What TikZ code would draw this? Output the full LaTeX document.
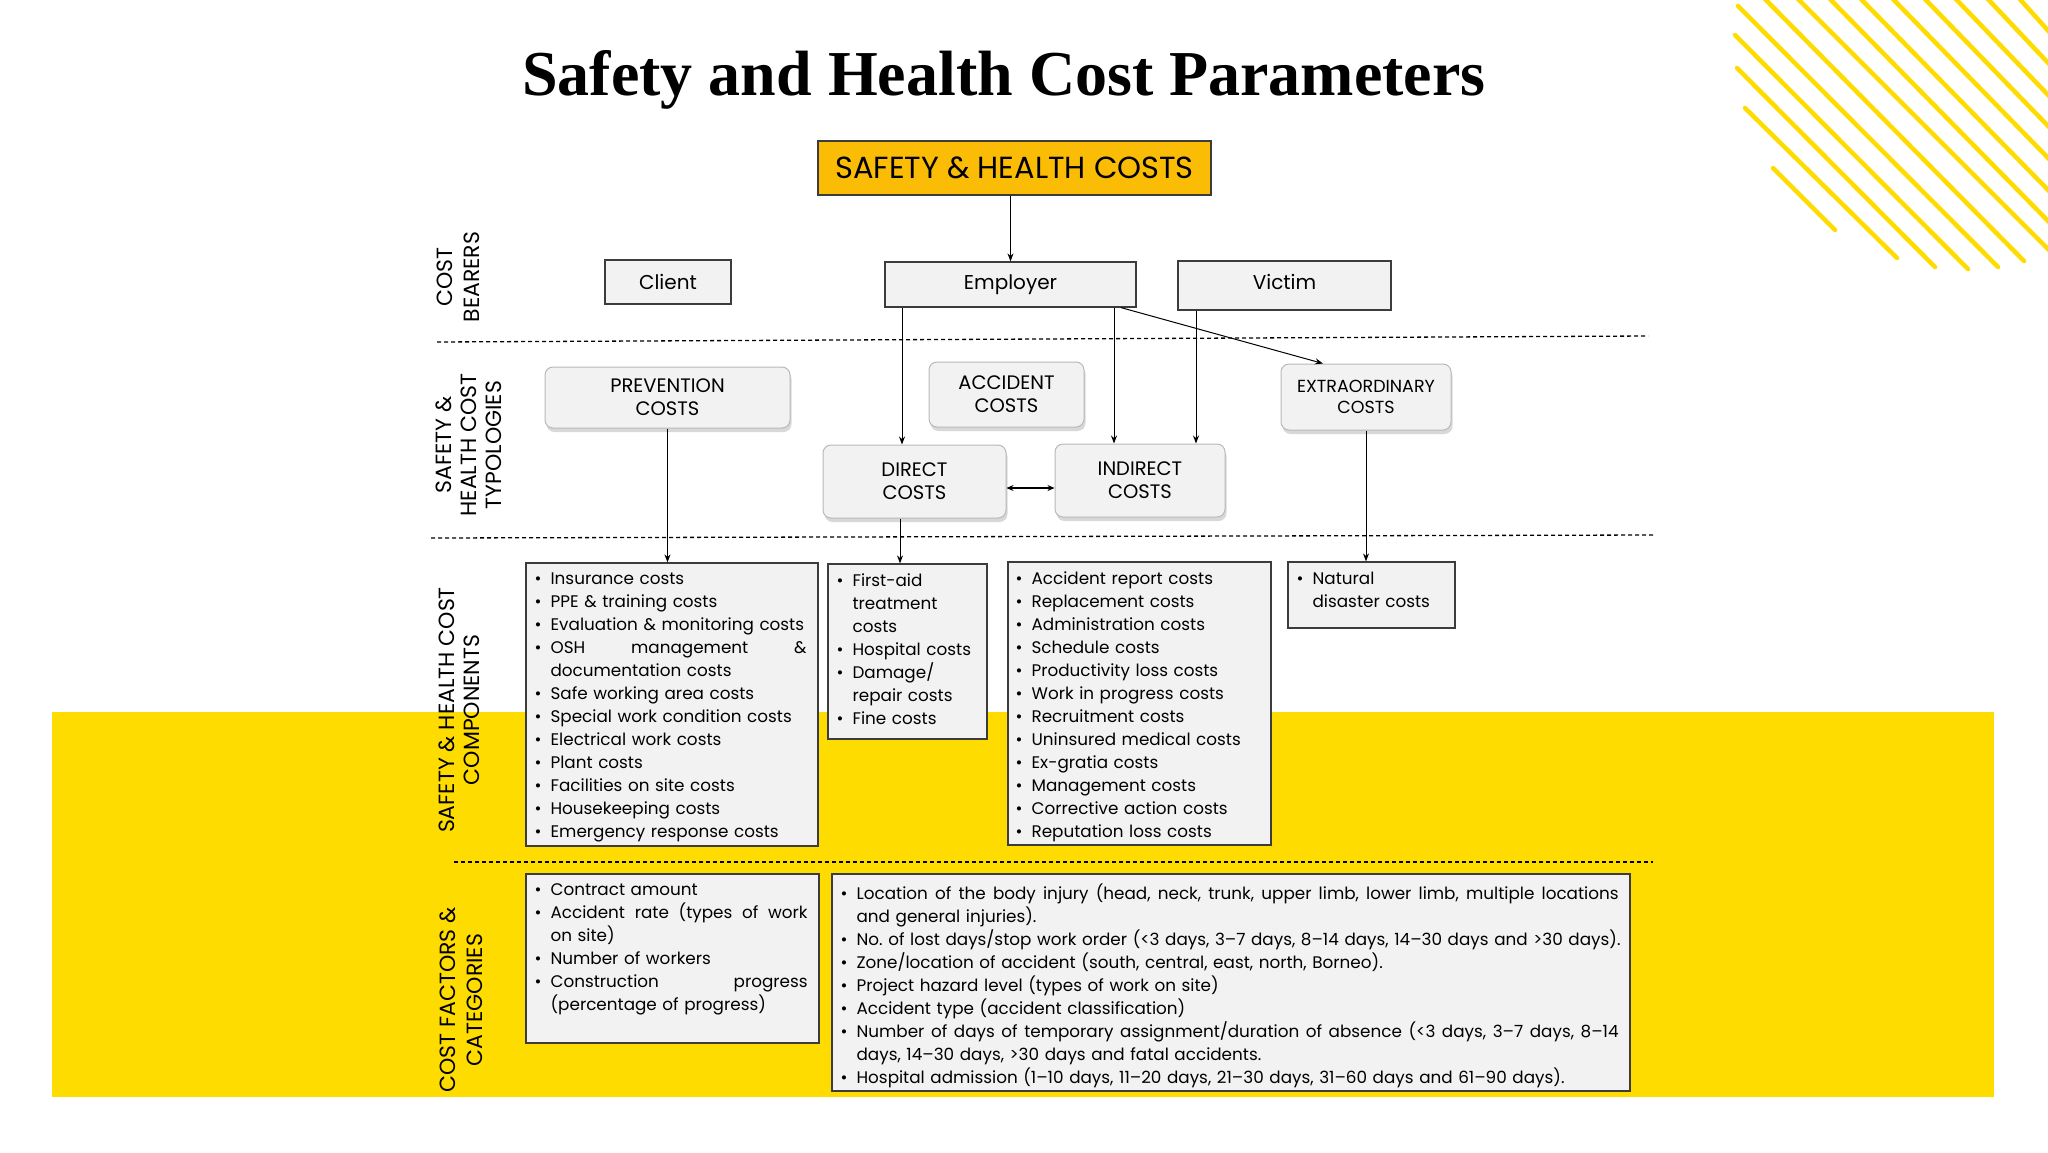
\documentclass[tikz,border=0pt]{standalone}
\usepackage{fontspec}
\setmainfont{Poppins}
\newfontfamily\titlefont{Liberation Serif}
\usetikzlibrary{arrows.meta,shadows,fit}

\definecolor{gold}{RGB}{251,188,5}
\definecolor{sunyellow}{RGB}{255,220,0}
\definecolor{boxgray}{RGB}{242,242,242}
\definecolor{edgegray}{RGB}{60,60,60}

\newcommand{\bul}{\makebox[16pt][l]{\textbullet}}
\newcommand{\ind}{\hspace*{16pt}}
\newcommand{\fullline}[2]{\makebox[#1][s]{\spaceskip=0pt\xspaceskip=0pt #2}}

\begin{document}
\frenchspacing
\begin{tikzpicture}[x=1pt, y=-1pt,
    bearer/.style={draw=edgegray, fill=boxgray, line width=1.2pt, font=\fontsize{20}{24}\selectfont},
    typology/.style={draw=gray!55, fill=boxgray, line width=1pt, rounded corners=8pt, align=center,
        drop shadow={shadow xshift=1.5pt, shadow yshift=-4pt, opacity=0.3},
        font=\fontsize{19.5}{23}\selectfont},
    listbox/.style={draw=edgegray, fill=boxgray, line width=1.2pt, inner sep=0pt},
    listtext/.style={anchor=north west, inner sep=0pt, align=left, font=\fontsize{16.8}{23}\selectfont},
    sidelabel/.style={rotate=90, align=center, font=\fontsize{22}{27}\selectfont},
    divider/.style={dash pattern=on 4pt off 3pt, line width=1.3pt},
    arr/.style={-{Stealth[length=8pt,width=6pt]}, line width=1pt}
]
    \useasboundingbox (0,0) rectangle (2048,1152);
    \fill[white] (0,0) rectangle (2048,1152);

    % Yellow band and corner stripes
    \fill[sunyellow] (52,712) rectangle (1994,1097);
    \draw[sunyellow, line width=4.5pt, line cap=round]
        (1773,168) -- (1835,230) (1745,108) -- (1897,258)
        (1737,68) -- (1935,267) (1735,35) -- (1968,269)
        (1738,6) -- (1998,267) (1762,-4) -- (2024,261)
        (1795,-4) -- (2052,253) (1827,-4) -- (2052,225)
        (1858,-4) -- (2052,194) (1890,-4) -- (2052,162)
        (1922,-4) -- (2052,130) (1953,-4) -- (2052,99)
        (1985,-4) -- (2052,67) (2017,-4) -- (2052,35);

    % Title
    \node[font=\titlefont\bfseries\fontsize{64}{70}\selectfont, anchor=base] (title) at (1004,95)
        {Safety and Health Cost Parameters};

    % Top box and cost bearers
    \node[draw=edgegray, fill=gold, line width=1.2pt, minimum width=393pt, minimum height=54pt,
        font=\fontsize{30.5}{32}\selectfont] (total) at (1014.5,168) {SAFETY \& HEALTH COSTS};
    \node[bearer, minimum width=126pt, minimum height=44pt] (client) at (668,282) {Client};
    \node[bearer, minimum width=251pt, minimum height=45pt] (employer) at (1010.5,284.5) {Employer};
    \node[bearer, minimum width=213pt, minimum height=49pt, text depth=8pt] (victim) at (1284.5,285.5) {Victim};

    % Dashed dividers
    \draw[divider] (437,342) -- (1648,336);
    \draw[divider] (431,538) -- (1653,535);
    \draw[divider] (454,862) -- (1653,862);

    % Cost typologies
    \node[typology, minimum width=245pt, minimum height=61pt] (prevention) at (667.5,397.5) {PREVENTION\\COSTS};
    \node[typology, minimum width=155pt, minimum height=65pt] (accident) at (1006.5,394.5) {ACCIDENT\\COSTS};
    \node[typology, minimum width=170pt, minimum height=66pt, font=\fontsize{17.5}{21}\selectfont]
        (extra) at (1366,397) {EXTRAORDINARY\\COSTS};
    \node[typology, minimum width=183pt, minimum height=73pt] (direct) at (914.5,481.5) {DIRECT\\COSTS};
    \node[typology, minimum width=170pt, minimum height=73pt] (indirect) at (1140,480.5) {INDIRECT\\COSTS};

    % Cost components
    \node[listbox, fit={(526,563) (818,846)}] (prevlist) {};
    \node[listtext, text width=280pt] (prevtext) at ([xshift=9pt, yshift=-10pt]prevlist.north west) {%
        \bul Insurance costs\\
        \bul PPE \& training costs\\
        \bul Evaluation \& monitoring costs\\
        \bul\fullline{256pt}{OSH management \&}\\
        \ind documentation costs\\
        \bul Safe working area costs\\
        \bul Special work condition costs\\
        \bul Electrical work costs\\
        \bul Plant costs\\
        \bul Facilities on site costs\\
        \bul Housekeeping costs\\
        \bul Emergency response costs};
    \node[listbox, fit={(828,564) (987,739)}] (directlist) {};
    \node[listtext, text width=148pt] (directtext) at ([xshift=9pt, yshift=-10pt]directlist.north west) {%
        \bul First-aid\\
        \ind treatment\\
        \ind costs\\
        \bul Hospital costs\\
        \bul Damage/\\
        \ind repair costs\\
        \bul Fine costs};
    \node[listbox, fit={(1008,562) (1271,845)}] (indirectlist) {};
    \node[listtext, text width=252pt] (indirecttext) at ([xshift=8pt, yshift=-10pt]indirectlist.north west) {%
        \bul Accident report costs\\
        \bul Replacement costs\\
        \bul Administration costs\\
        \bul Schedule costs\\
        \bul Productivity loss costs\\
        \bul Work in progress costs\\
        \bul Recruitment costs\\
        \bul Uninsured medical costs\\
        \bul Ex-gratia costs\\
        \bul Management costs\\
        \bul Corrective action costs\\
        \bul Reputation loss costs};
    \node[listbox, fit={(1288,562) (1455,628)}] (extralist) {};
    \node[listtext, text width=155pt] (extratext) at ([xshift=9pt, yshift=-10pt]extralist.north west) {%
        \bul Natural\\
        \ind disaster costs};

    % Cost factors and categories
    \node[listbox, fit={(526,874) (819,1043)}] (factorlist) {};
    \node[listtext, text width=280pt] (factortext) at ([xshift=9pt, yshift=-10pt]factorlist.north west) {%
        \bul Contract amount\\
        \bul\fullline{257pt}{Accident rate (types of work}\\
        \ind on site)\\
        \bul Number of workers\\
        \bul\fullline{257pt}{Construction progress}\\
        \ind (percentage of progress)};
    \node[listbox, fit={(832,874) (1630,1091)}] (categorylist) {};
    \node[listtext, text width=785pt] (categorytext) at ([xshift=9pt, yshift=-10pt]categorylist.north west) {%
        \bul\fullline{762pt}{Location of the body injury (head, neck, trunk, upper limb, lower limb, multiple locations}\\
        \ind and general injuries).\\
        \bul\mbox{No. of lost days/stop work order (<3 days, 3--7 days, 8--14 days, 14--30 days and >30 days).}\\
        \bul Zone/location of accident (south, central, east, north, Borneo).\\
        \bul Project hazard level (types of work on site)\\
        \bul Accident type (accident classification)\\
        \bul\fullline{762pt}{Number of days of temporary assignment/duration of absence (<3 days, 3--7 days, 8--14}\\
        \ind days, 14--30 days, >30 days and fatal accidents.\\
        \bul\mbox{Hospital admission (1--10 days, 11--20 days, 21--30 days, 31--60 days and 61--90 days).}};

    % Row labels
    \node[sidelabel] (bearerlabel) at (458.5,277) {COST\\BEARERS};
    \node[sidelabel, font=\fontsize{22}{25}\selectfont] (typolabel) at (469,445) {SAFETY \&\\HEALTH COST\\TYPOLOGIES};
    \node[sidelabel, font=\fontsize{22}{25}\selectfont] (complabel) at (459.5,710) {SAFETY \& HEALTH COST\\COMPONENTS};
    \node[sidelabel] (factlabel) at (461,1000) {COST FACTORS \&\\CATEGORIES};

    % Connectors
    \draw[arr] (total.south -| employer.north) -- (employer.north);
    \draw[arr] (employer.south -| 902,0) -- (direct.north -| 902,0);
    \draw[arr] (employer.south -| 1114,0) -- (indirect.north -| 1114,0);
    \draw[arr] (victim.south -| 1196,0) -- (indirect.north -| 1196,0);
    \draw[arr] (employer.south -| 1121,0) -- (extra.north -| 1323,0);
    \draw[{Stealth[length=7pt,width=6pt]}-{Stealth[length=7pt,width=6pt]}, line width=1.8pt]
        (direct.east |- 0,488) -- (indirect.west |- 0,488);
    \draw[arr] (prevention.south) -- (prevlist.north -| prevention.south);
    \draw[arr] (direct.south -| 900,0) -- (directlist.north -| 900,0);
    \draw[arr] (extra.south) -- (extralist.north -| extra.south);
\end{tikzpicture}
\end{document}
